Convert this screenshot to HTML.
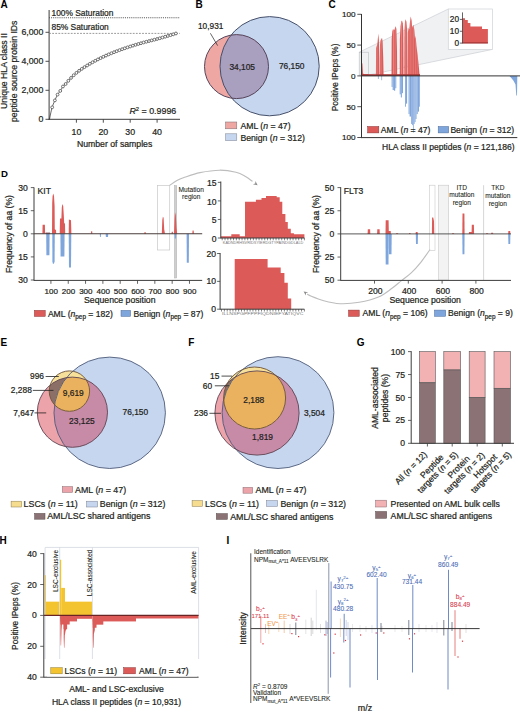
<!DOCTYPE html>
<html><head><meta charset="utf-8"><style>
html,body{margin:0;padding:0;background:#fff;}
body{position:relative;width:520px;height:715px;overflow:hidden;}
svg{display:block;position:absolute;left:0;top:0;}
</style></head><body>
<svg width="520" height="715" viewBox="0 0 520 715" font-family="Liberation Sans, sans-serif" fill="#231f20">
<text x="0.60" y="7.70" font-size="10" font-weight="bold" fill="#000">A</text>
<line x1="49.10" y1="10.00" x2="49.10" y2="119.80" stroke="#3c3c3c" stroke-width="1.0"/>
<line x1="48.60" y1="119.30" x2="180.00" y2="119.30" stroke="#3c3c3c" stroke-width="1.0"/>
<line x1="45.50" y1="119.30" x2="49.10" y2="119.30" stroke="#3c3c3c" stroke-width="0.9"/>
<text x="43.40" y="122.40" font-size="8.8" text-anchor="end" stroke="#231f20" stroke-width="0.22">0</text>
<line x1="45.50" y1="90.30" x2="49.10" y2="90.30" stroke="#3c3c3c" stroke-width="0.9"/>
<text x="43.40" y="93.40" font-size="8.8" text-anchor="end" stroke="#231f20" stroke-width="0.22">2,000</text>
<line x1="45.50" y1="61.30" x2="49.10" y2="61.30" stroke="#3c3c3c" stroke-width="0.9"/>
<text x="43.40" y="64.40" font-size="8.8" text-anchor="end" stroke="#231f20" stroke-width="0.22">4,000</text>
<line x1="45.50" y1="32.30" x2="49.10" y2="32.30" stroke="#3c3c3c" stroke-width="0.9"/>
<text x="43.40" y="35.40" font-size="8.8" text-anchor="end" stroke="#231f20" stroke-width="0.22">6,000</text>
<line x1="76.40" y1="119.30" x2="76.40" y2="122.70" stroke="#3c3c3c" stroke-width="0.9"/>
<text x="76.40" y="134.80" font-size="8.8" text-anchor="middle" stroke="#231f20" stroke-width="0.22">10</text>
<line x1="103.30" y1="119.30" x2="103.30" y2="122.70" stroke="#3c3c3c" stroke-width="0.9"/>
<text x="103.30" y="134.80" font-size="8.8" text-anchor="middle" stroke="#231f20" stroke-width="0.22">20</text>
<line x1="130.20" y1="119.30" x2="130.20" y2="122.70" stroke="#3c3c3c" stroke-width="0.9"/>
<text x="130.20" y="134.80" font-size="8.8" text-anchor="middle" stroke="#231f20" stroke-width="0.22">30</text>
<line x1="157.10" y1="119.30" x2="157.10" y2="122.70" stroke="#3c3c3c" stroke-width="0.9"/>
<text x="157.10" y="134.80" font-size="8.8" text-anchor="middle" stroke="#231f20" stroke-width="0.22">40</text>
<text x="114.60" y="147.20" font-size="8.7" text-anchor="middle" stroke="#231f20" stroke-width="0.22">Number of samples</text>
<text transform="translate(6.60,71.00) rotate(-90)" font-size="8.7" text-anchor="middle" stroke="#231f20" stroke-width="0.22">Unique HLA class II</text>
<text transform="translate(17.30,71.30) rotate(-90)" font-size="8.7" text-anchor="middle" stroke="#231f20" stroke-width="0.22">peptide source protein IDs</text>
<line x1="49.10" y1="17.80" x2="180.00" y2="17.80" stroke="#4a4a4a" stroke-width="1.1" stroke-dasharray="0.9,1.0"/>
<line x1="49.10" y1="33.40" x2="180.00" y2="33.40" stroke="#777" stroke-width="0.75" stroke-dasharray="1.8,1.3"/>
<text x="51.50" y="15.80" font-size="8.4" stroke="#231f20" stroke-width="0.22">100% Saturation</text>
<text x="51.50" y="30.40" font-size="8.4" stroke="#231f20" stroke-width="0.22">85% Saturation</text>
<text x="176.30" y="114.40" font-size="8.9" text-anchor="end" stroke="#231f20" stroke-width="0.22"><tspan font-style="italic">R</tspan><tspan dy="-3.2" font-size="5.8">2</tspan><tspan dy="3.2"> = 0.9996</tspan></text>
<polyline points="49.50,119.30 50.14,115.98 50.77,112.91 51.41,110.17 52.04,107.80 52.68,105.81 53.31,104.10 53.95,102.56 54.58,101.09 55.22,99.61 55.85,98.13 56.49,96.71 57.12,95.42 57.76,94.31 58.39,93.38 59.03,92.56 59.67,91.74 60.30,90.85 60.94,89.80 61.57,88.66 62.21,87.56 62.84,86.63 63.48,85.93 64.11,85.35 64.75,84.82 65.38,84.26 66.02,83.59 66.65,82.83 67.29,82.03 67.92,81.26 68.56,80.54 69.20,79.86 69.83,79.18 70.47,78.50 71.10,77.84 71.74,77.19 72.37,76.56 73.01,75.93 73.64,75.33 74.28,74.74 74.91,74.16 75.55,73.61 76.18,73.08 76.82,72.56 77.45,72.06 78.09,71.57 78.73,71.09 79.36,70.62 80.00,70.15 80.63,69.70 81.27,69.26 81.90,68.82 82.54,68.39 83.17,67.97 83.81,67.55 84.44,67.14 85.08,66.74 85.71,66.34 86.35,65.94 86.98,65.55 87.62,65.17 88.25,64.78 88.89,64.41 89.53,64.03 90.16,63.65 90.80,63.28 91.43,62.92 92.07,62.56 92.70,62.20 93.34,61.85 93.97,61.50 94.61,61.15 95.24,60.81 95.88,60.48 96.51,60.14 97.15,59.81 97.78,59.49 98.42,59.16 99.06,58.84 99.69,58.53 100.33,58.22 100.96,57.91 101.60,57.60 102.23,57.30 102.87,57.00 103.50,56.70 104.14,56.41 104.77,56.12 105.41,55.83 106.04,55.55 106.68,55.27 107.31,54.99 107.95,54.71 108.59,54.44 109.22,54.17 109.86,53.90 110.49,53.64 111.13,53.37 111.76,53.11 112.40,52.86 113.03,52.60 113.67,52.35 114.30,52.10 114.94,51.85 115.57,51.60 116.21,51.36 116.84,51.12 117.48,50.88 118.12,50.64 118.75,50.41 119.39,50.18 120.02,49.94 120.66,49.72 121.29,49.49 121.93,49.27 122.56,49.04 123.20,48.82 123.83,48.60 124.47,48.39 125.10,48.17 125.74,47.96 126.37,47.75 127.01,47.54 127.65,47.33 128.28,47.12 128.92,46.91 129.55,46.70 130.19,46.50 130.82,46.30 131.46,46.09 132.09,45.89 132.73,45.69 133.36,45.49 134.00,45.30 134.63,45.10 135.27,44.91 135.90,44.71 136.54,44.52 137.18,44.33 137.81,44.14 138.45,43.95 139.08,43.76 139.72,43.58 140.35,43.40 140.99,43.21 141.62,43.03 142.26,42.85 142.89,42.67 143.53,42.50 144.16,42.32 144.80,42.15 145.43,41.98 146.07,41.81 146.70,41.65 147.34,41.49 147.98,41.32 148.61,41.16 149.25,41.01 149.88,40.85 150.52,40.69 151.15,40.53 151.79,40.37 152.42,40.21 153.06,40.05 153.69,39.89 154.33,39.73 154.96,39.57 155.60,39.40 156.23,39.23 156.87,39.06 157.51,38.89 158.14,38.71 158.78,38.54 159.41,38.36 160.05,38.19 160.68,38.01 161.32,37.83 161.95,37.65 162.59,37.47 163.22,37.29 163.86,37.11 164.49,36.92 165.13,36.74 165.76,36.56 166.40,36.37 167.04,36.19 167.67,36.00 168.31,35.81 168.94,35.62 169.58,35.43 170.21,35.24 170.85,35.05 171.48,34.86 172.12,34.66 172.75,34.47 173.39,34.27 174.02,34.08 174.66,33.88 175.29,33.68 175.93,33.48" fill="none" stroke="#222" stroke-width="0.7"/>
<circle cx="52.19" cy="107.30" r="1.42" fill="#fff" stroke="#505050" stroke-width="0.8"/>
<circle cx="54.88" cy="100.40" r="1.42" fill="#fff" stroke="#505050" stroke-width="0.8"/>
<circle cx="57.57" cy="94.62" r="1.42" fill="#fff" stroke="#505050" stroke-width="0.8"/>
<circle cx="60.26" cy="90.91" r="1.42" fill="#fff" stroke="#505050" stroke-width="0.8"/>
<circle cx="62.95" cy="86.50" r="1.42" fill="#fff" stroke="#505050" stroke-width="0.8"/>
<circle cx="65.64" cy="84.00" r="1.42" fill="#fff" stroke="#505050" stroke-width="0.8"/>
<circle cx="68.33" cy="80.80" r="1.42" fill="#fff" stroke="#505050" stroke-width="0.8"/>
<circle cx="71.02" cy="77.93" r="1.42" fill="#fff" stroke="#505050" stroke-width="0.8"/>
<circle cx="73.71" cy="75.26" r="1.42" fill="#fff" stroke="#505050" stroke-width="0.8"/>
<circle cx="76.40" cy="72.90" r="1.42" fill="#fff" stroke="#505050" stroke-width="0.8"/>
<circle cx="79.09" cy="70.82" r="1.42" fill="#fff" stroke="#505050" stroke-width="0.8"/>
<circle cx="81.78" cy="68.90" r="1.42" fill="#fff" stroke="#505050" stroke-width="0.8"/>
<circle cx="84.47" cy="67.12" r="1.42" fill="#fff" stroke="#505050" stroke-width="0.8"/>
<circle cx="87.16" cy="65.45" r="1.42" fill="#fff" stroke="#505050" stroke-width="0.8"/>
<circle cx="89.85" cy="63.84" r="1.42" fill="#fff" stroke="#505050" stroke-width="0.8"/>
<circle cx="92.54" cy="62.29" r="1.42" fill="#fff" stroke="#505050" stroke-width="0.8"/>
<circle cx="95.23" cy="60.82" r="1.42" fill="#fff" stroke="#505050" stroke-width="0.8"/>
<circle cx="97.92" cy="59.42" r="1.42" fill="#fff" stroke="#505050" stroke-width="0.8"/>
<circle cx="100.61" cy="58.08" r="1.42" fill="#fff" stroke="#505050" stroke-width="0.8"/>
<circle cx="103.30" cy="56.80" r="1.42" fill="#fff" stroke="#505050" stroke-width="0.8"/>
<circle cx="105.99" cy="55.57" r="1.42" fill="#fff" stroke="#505050" stroke-width="0.8"/>
<circle cx="108.68" cy="54.40" r="1.42" fill="#fff" stroke="#505050" stroke-width="0.8"/>
<circle cx="111.37" cy="53.27" r="1.42" fill="#fff" stroke="#505050" stroke-width="0.8"/>
<circle cx="114.06" cy="52.19" r="1.42" fill="#fff" stroke="#505050" stroke-width="0.8"/>
<circle cx="116.75" cy="51.16" r="1.42" fill="#fff" stroke="#505050" stroke-width="0.8"/>
<circle cx="119.44" cy="50.16" r="1.42" fill="#fff" stroke="#505050" stroke-width="0.8"/>
<circle cx="122.13" cy="49.19" r="1.42" fill="#fff" stroke="#505050" stroke-width="0.8"/>
<circle cx="124.82" cy="48.27" r="1.42" fill="#fff" stroke="#505050" stroke-width="0.8"/>
<circle cx="127.51" cy="47.37" r="1.42" fill="#fff" stroke="#505050" stroke-width="0.8"/>
<circle cx="130.20" cy="46.50" r="1.42" fill="#fff" stroke="#505050" stroke-width="0.8"/>
<circle cx="132.89" cy="45.64" r="1.42" fill="#fff" stroke="#505050" stroke-width="0.8"/>
<circle cx="135.58" cy="44.81" r="1.42" fill="#fff" stroke="#505050" stroke-width="0.8"/>
<circle cx="138.27" cy="44.00" r="1.42" fill="#fff" stroke="#505050" stroke-width="0.8"/>
<circle cx="140.96" cy="43.22" r="1.42" fill="#fff" stroke="#505050" stroke-width="0.8"/>
<circle cx="143.65" cy="42.46" r="1.42" fill="#fff" stroke="#505050" stroke-width="0.8"/>
<circle cx="146.34" cy="41.74" r="1.42" fill="#fff" stroke="#505050" stroke-width="0.8"/>
<circle cx="149.03" cy="41.06" r="1.42" fill="#fff" stroke="#505050" stroke-width="0.8"/>
<circle cx="151.72" cy="40.39" r="1.42" fill="#fff" stroke="#505050" stroke-width="0.8"/>
<circle cx="154.41" cy="39.71" r="1.42" fill="#fff" stroke="#505050" stroke-width="0.8"/>
<circle cx="157.10" cy="39.00" r="1.42" fill="#fff" stroke="#505050" stroke-width="0.8"/>
<circle cx="159.79" cy="38.26" r="1.42" fill="#fff" stroke="#505050" stroke-width="0.8"/>
<circle cx="162.48" cy="37.50" r="1.42" fill="#fff" stroke="#505050" stroke-width="0.8"/>
<circle cx="165.17" cy="36.73" r="1.42" fill="#fff" stroke="#505050" stroke-width="0.8"/>
<circle cx="167.86" cy="35.94" r="1.42" fill="#fff" stroke="#505050" stroke-width="0.8"/>
<circle cx="170.55" cy="35.14" r="1.42" fill="#fff" stroke="#505050" stroke-width="0.8"/>
<circle cx="173.24" cy="34.32" r="1.42" fill="#fff" stroke="#505050" stroke-width="0.8"/>
<circle cx="175.93" cy="33.48" r="1.42" fill="#fff" stroke="#505050" stroke-width="0.8"/>
<text x="195.60" y="7.60" font-size="10" font-weight="bold" fill="#000">B</text>
<defs><clipPath id="cbB"><circle cx="269.6" cy="66.2" r="49.6"/></clipPath></defs>
<circle cx="269.6" cy="66.2" r="49.6" fill="#c6d6ef"/>
<circle cx="236.5" cy="66.6" r="32.0" fill="#eea7a3"/>
<circle cx="236.5" cy="66.6" r="32.0" fill="#a99fbf" clip-path="url(#cbB)"/>
<circle cx="269.6" cy="66.2" r="49.6" fill="none" stroke="#46506a" stroke-width="1.0"/>
<circle cx="236.5" cy="66.6" r="32.0" fill="none" stroke="#54465c" stroke-width="1.0"/>
<text x="198.00" y="28.80" font-size="8.3" stroke="#231f20" stroke-width="0.22">10,931</text>
<line x1="210.40" y1="33.30" x2="217.60" y2="45.60" stroke="#222" stroke-width="0.7"/>
<text x="242.20" y="69.60" font-size="8.4" text-anchor="middle" stroke="#231f20" stroke-width="0.22">34,105</text>
<text x="291.70" y="69.40" font-size="8.4" text-anchor="middle" stroke="#231f20" stroke-width="0.22">76,150</text>
<rect x="225.60" y="122.00" width="11.20" height="6.80" fill="#eea7a3" stroke="#7a6a70" stroke-width="0.5"/>
<rect x="225.60" y="133.80" width="11.20" height="6.80" fill="#c6d6ef" stroke="#7a8090" stroke-width="0.5"/>
<text x="240.40" y="128.80" font-size="8.7" stroke="#231f20" stroke-width="0.22">AML (<tspan font-style="italic">n</tspan> = 47)</text>
<text x="240.40" y="140.60" font-size="8.7" stroke="#231f20" stroke-width="0.22">Benign (<tspan font-style="italic">n</tspan> = 312)</text>
<text x="328.40" y="7.50" font-size="10" font-weight="bold" fill="#000">C</text>
<polygon points="359.20,52.20 448.30,9.00 492.50,49.40 368.60,75.00 359.20,75.00" fill="#e9ecef" opacity="0.75"/>
<line x1="359.20" y1="52.20" x2="448.30" y2="9.00" stroke="#c4c8cc" stroke-width="0.6"/>
<line x1="368.60" y1="75.00" x2="492.50" y2="49.40" stroke="#c4c8cc" stroke-width="0.6"/>
<rect x="359.20" y="52.20" width="9.40" height="22.80" fill="none" stroke="#b9bdc2" stroke-width="0.6"/>
<polygon points="361.70,75.90 361.70,62.96 362.40,63.58 363.00,73.44 364.50,74.36 368.50,74.36 368.50,75.90" fill="#dc5b58"/>
<polygon points="375.90,75.90 375.90,75.90 376.10,48.18 377.20,44.48 377.60,42.02 378.30,33.40 378.90,40.17 379.30,57.42 379.40,75.90 379.40,75.90" fill="#dc5b58"/>
<polygon points="379.80,75.90 379.80,75.90 380.00,45.10 380.60,40.17 381.40,38.94 382.00,37.71 382.60,41.40 383.20,57.42 383.60,75.90 383.60,75.90" fill="#dc5b58"/>
<polygon points="391.50,75.90 391.50,75.90 391.70,38.94 392.30,31.55 393.00,29.08 393.80,30.32 394.50,29.70 395.10,27.85 395.70,26.19 396.40,29.08 397.00,51.26 397.20,75.90 397.20,75.90" fill="#dc5b58"/>
<polygon points="399.70,75.90 399.70,75.90 399.90,38.94 400.50,26.62 401.20,21.69 402.00,20.46 402.80,23.54 403.30,32.78 403.50,75.90 403.50,75.90" fill="#dc5b58"/>
<polygon points="404.30,75.90 404.30,75.90 404.50,29.70 405.00,21.69 405.60,19.23 406.40,21.69 407.10,29.70 407.30,75.90 407.30,75.90" fill="#dc5b58"/>
<polygon points="407.60,75.90 407.60,75.90 407.80,32.78 408.60,28.47 409.40,29.08 409.80,23.54 410.70,16.39 411.60,20.46 412.20,27.85 413.40,24.77 414.30,29.70 415.00,38.94 415.60,35.86 416.50,46.33 417.50,54.34 418.50,63.58 419.50,74.05 419.80,75.90 419.80,75.90" fill="#dc5b58"/>
<defs><clipPath id="redC"><polygon points="361.70,75.90 361.70,62.96 362.40,63.58 363.00,73.44 364.50,74.36 368.50,74.36 368.50,75.90"/><polygon points="375.90,75.90 375.90,75.90 376.10,48.18 377.20,44.48 377.60,42.02 378.30,33.40 378.90,40.17 379.30,57.42 379.40,75.90 379.40,75.90"/><polygon points="379.80,75.90 379.80,75.90 380.00,45.10 380.60,40.17 381.40,38.94 382.00,37.71 382.60,41.40 383.20,57.42 383.60,75.90 383.60,75.90"/><polygon points="391.50,75.90 391.50,75.90 391.70,38.94 392.30,31.55 393.00,29.08 393.80,30.32 394.50,29.70 395.10,27.85 395.70,26.19 396.40,29.08 397.00,51.26 397.20,75.90 397.20,75.90"/><polygon points="399.70,75.90 399.70,75.90 399.90,38.94 400.50,26.62 401.20,21.69 402.00,20.46 402.80,23.54 403.30,32.78 403.50,75.90 403.50,75.90"/><polygon points="404.30,75.90 404.30,75.90 404.50,29.70 405.00,21.69 405.60,19.23 406.40,21.69 407.10,29.70 407.30,75.90 407.30,75.90"/><polygon points="407.60,75.90 407.60,75.90 407.80,32.78 408.60,28.47 409.40,29.08 409.80,23.54 410.70,16.39 411.60,20.46 412.20,27.85 413.40,24.77 414.30,29.70 415.00,38.94 415.60,35.86 416.50,46.33 417.50,54.34 418.50,63.58 419.50,74.05 419.80,75.90 419.80,75.90"/></clipPath></defs>
<g clip-path="url(#redC)"><line x1="377.0" y1="10" x2="377.0" y2="75.9" stroke="#f0a4a4" stroke-width="0.5"/><line x1="381.0" y1="10" x2="381.0" y2="75.9" stroke="#f0a4a4" stroke-width="0.5"/><line x1="393.6" y1="10" x2="393.6" y2="75.9" stroke="#f0a4a4" stroke-width="0.6"/><line x1="395.2" y1="10" x2="395.2" y2="75.9" stroke="#f0a4a4" stroke-width="0.4"/><line x1="401.5" y1="10" x2="401.5" y2="75.9" stroke="#f0a4a4" stroke-width="0.5"/><line x1="405.8" y1="10" x2="405.8" y2="75.9" stroke="#f0a4a4" stroke-width="0.5"/><line x1="409.0" y1="10" x2="409.0" y2="75.9" stroke="#f0a4a4" stroke-width="0.4"/><line x1="410.9" y1="10" x2="410.9" y2="75.9" stroke="#f0a4a4" stroke-width="0.5"/><line x1="413.2" y1="10" x2="413.2" y2="75.9" stroke="#f0a4a4" stroke-width="0.5"/><line x1="415.4" y1="10" x2="415.4" y2="75.9" stroke="#f0a4a4" stroke-width="0.4"/><line x1="417.2" y1="10" x2="417.2" y2="75.9" stroke="#f0a4a4" stroke-width="0.4"/></g>
<rect x="377.90" y="75.90" width="0.80" height="3.08" fill="#7ea6dc"/>
<rect x="381.30" y="75.90" width="0.80" height="4.31" fill="#8db0e0"/>
<rect x="391.60" y="75.90" width="1.00" height="11.09" fill="#7ea6dc"/>
<rect x="392.60" y="75.90" width="1.40" height="14.17" fill="#8db0e0"/>
<rect x="394.00" y="75.90" width="1.20" height="14.78" fill="#7ea6dc"/>
<rect x="395.20" y="75.90" width="1.10" height="12.32" fill="#8db0e0"/>
<rect x="399.70" y="75.90" width="1.10" height="18.48" fill="#7ea6dc"/>
<rect x="400.80" y="75.90" width="1.20" height="21.56" fill="#8db0e0"/>
<rect x="402.00" y="75.90" width="1.00" height="17.25" fill="#7ea6dc"/>
<rect x="405.00" y="75.90" width="1.00" height="30.80" fill="#8db0e0"/>
<rect x="406.00" y="75.90" width="1.10" height="27.72" fill="#7ea6dc"/>
<rect x="408.50" y="75.90" width="1.10" height="38.19" fill="#8db0e0"/>
<rect x="409.60" y="75.90" width="1.50" height="40.66" fill="#7ea6dc"/>
<rect x="411.10" y="75.90" width="1.10" height="48.05" fill="#8db0e0"/>
<rect x="412.20" y="75.90" width="0.80" height="49.28" fill="#7ea6dc"/>
<rect x="413.00" y="75.90" width="0.80" height="56.67" fill="#8db0e0"/>
<rect x="413.80" y="75.90" width="0.80" height="48.05" fill="#7ea6dc"/>
<rect x="414.60" y="75.90" width="1.00" height="46.20" fill="#8db0e0"/>
<rect x="415.60" y="75.90" width="0.90" height="43.12" fill="#7ea6dc"/>
<rect x="416.50" y="75.90" width="1.30" height="38.19" fill="#8db0e0"/>
<rect x="417.80" y="75.90" width="1.20" height="35.73" fill="#7ea6dc"/>
<rect x="419.00" y="75.90" width="0.90" height="30.80" fill="#8db0e0"/>
<polygon points="509.80,75.90 509.80,76.52 511.50,78.36 513.50,80.83 515.50,84.52 516.30,95.61 517.00,95.61 517.30,76.52 517.30,75.90" fill="#7ea6dc"/>
<rect x="361.00" y="74.20" width="59.00" height="1.80" fill="#a83a3a"/>
<line x1="361.50" y1="14.00" x2="361.50" y2="138.10" stroke="#333" stroke-width="1.0"/>
<line x1="361.50" y1="75.90" x2="520.00" y2="75.90" stroke="#333" stroke-width="1.0"/>
<line x1="361.50" y1="137.60" x2="517.30" y2="137.60" stroke="#333" stroke-width="1.0"/>
<line x1="357.30" y1="14.30" x2="361.50" y2="14.30" stroke="#3c3c3c" stroke-width="0.9"/>
<text x="355.40" y="17.20" font-size="8.1" text-anchor="end" stroke="#231f20" stroke-width="0.22">100</text>
<line x1="357.30" y1="45.10" x2="361.50" y2="45.10" stroke="#3c3c3c" stroke-width="0.9"/>
<text x="355.40" y="48.00" font-size="8.1" text-anchor="end" stroke="#231f20" stroke-width="0.22">50</text>
<line x1="357.30" y1="75.90" x2="361.50" y2="75.90" stroke="#3c3c3c" stroke-width="0.9"/>
<text x="355.40" y="78.80" font-size="8.1" text-anchor="end" stroke="#231f20" stroke-width="0.22">0</text>
<line x1="357.30" y1="106.70" x2="361.50" y2="106.70" stroke="#3c3c3c" stroke-width="0.9"/>
<text x="355.40" y="109.60" font-size="8.1" text-anchor="end" stroke="#231f20" stroke-width="0.22">50</text>
<line x1="357.30" y1="137.50" x2="361.50" y2="137.50" stroke="#3c3c3c" stroke-width="0.9"/>
<text x="355.40" y="140.40" font-size="8.1" text-anchor="end" stroke="#231f20" stroke-width="0.22">100</text>
<text transform="translate(338.20,77.40) rotate(-90)" font-size="8.3" text-anchor="middle" stroke="#231f20" stroke-width="0.22">Positive IPeps (%)</text>
<rect x="448.30" y="9.00" width="44.20" height="40.40" fill="#fff" stroke="#cfd2d6" stroke-width="0.7"/>
<polygon points="462.50,43.10 462.50,18.21 465.00,18.21 465.00,19.99 467.80,19.99 467.80,22.96 470.40,22.96 470.40,26.51 482.00,26.51 482.00,28.88 487.90,28.88 487.90,43.10" fill="#dc5b58"/>
<rect x="462.50" y="42.20" width="25.40" height="1.40" fill="#a83a3a"/>
<line x1="462.50" y1="12.40" x2="462.50" y2="43.40" stroke="#3c3c3c" stroke-width="0.8"/>
<line x1="459.90" y1="43.10" x2="462.50" y2="43.10" stroke="#3c3c3c" stroke-width="0.8"/>
<text x="459.10" y="46.00" font-size="8.3" text-anchor="end" stroke="#231f20" stroke-width="0.22">0</text>
<line x1="459.90" y1="31.25" x2="462.50" y2="31.25" stroke="#3c3c3c" stroke-width="0.8"/>
<text x="459.10" y="34.15" font-size="8.3" text-anchor="end" stroke="#231f20" stroke-width="0.22">10</text>
<line x1="459.90" y1="19.40" x2="462.50" y2="19.40" stroke="#3c3c3c" stroke-width="0.8"/>
<text x="459.10" y="22.30" font-size="8.3" text-anchor="end" stroke="#231f20" stroke-width="0.22">20</text>
<rect x="367.70" y="126.50" width="11.10" height="6.40" fill="#dc5b58" stroke="#8a3030" stroke-width="0.5"/>
<rect x="438.20" y="126.50" width="10.50" height="6.40" fill="#7ea6dc" stroke="#4a6a9a" stroke-width="0.5"/>
<text x="380.80" y="132.90" font-size="8.6" stroke="#231f20" stroke-width="0.22">AML (<tspan font-style="italic">n</tspan> = 47)</text>
<text x="450.40" y="132.90" font-size="8.6" stroke="#231f20" stroke-width="0.22">Benign (<tspan font-style="italic">n</tspan> = 312)</text>
<text x="382.00" y="150.10" font-size="8.5" stroke="#231f20" stroke-width="0.22">HLA class II peptides (<tspan font-style="italic">n</tspan> = 121,186)</text>
<text x="1.00" y="176.80" font-size="9.6" font-weight="bold" fill="#000">D</text>
<rect x="157.40" y="185.40" width="12.30" height="64.60" fill="none" stroke="#c8c8c8" stroke-width="0.7"/>
<rect x="174.40" y="185.60" width="2.30" height="92.40" fill="#cfcfcf" stroke="#b0b0b0" stroke-width="0.5"/>
<polygon points="42.40,233.80 42.40,233.80 42.60,224.87 44.90,224.87 45.10,233.80 45.10,233.80" fill="#dc5b58"/>
<polygon points="52.00,233.80 52.00,233.80 52.20,203.00 52.60,196.07 53.30,193.45 54.00,196.07 54.60,206.08 54.80,229.18 56.00,229.95 56.20,233.80 56.20,233.80" fill="#dc5b58"/>
<polygon points="59.70,233.80 59.70,233.80 60.00,218.40 61.40,218.40 61.80,207.62 62.40,203.92 63.20,206.08 63.80,215.32 64.20,223.02 65.00,223.79 65.20,233.80 65.20,233.80" fill="#dc5b58"/>
<polygon points="68.70,233.80 68.70,233.80 68.90,219.48 71.00,220.25 71.40,233.80 71.40,233.80" fill="#dc5b58"/>
<polygon points="90.80,233.80 90.80,233.80 91.20,231.34 92.20,231.34 92.40,233.80 92.40,233.80" fill="#dc5b58"/>
<polygon points="144.20,233.80 144.20,233.80 144.60,231.95 145.60,232.26 146.00,233.80 146.00,233.80" fill="#dc5b58"/>
<polygon points="161.80,233.80 161.80,233.80 162.30,219.94 162.90,216.86 163.60,217.63 164.20,229.18 165.00,233.80 165.00,233.80" fill="#dc5b58"/>
<polygon points="171.40,233.80 171.40,233.80 171.80,231.64 172.80,231.64 173.10,233.80 173.10,233.80" fill="#dc5b58"/>
<polygon points="174.00,233.80 174.00,233.80 174.50,221.48 175.00,212.24 175.80,215.32 176.50,227.64 177.20,233.80 177.20,233.80" fill="#dc5b58"/>
<polygon points="192.30,233.80 192.30,233.80 192.60,230.41 193.60,230.41 194.00,233.80 194.00,233.80" fill="#dc5b58"/>
<polygon points="46.20,233.80 46.20,233.80 46.40,255.36 49.40,255.36 49.60,233.80 49.60,233.80" fill="#7ea6dc"/>
<polygon points="52.30,233.80 52.30,233.80 52.40,261.52 52.90,263.83 53.90,263.83 54.60,261.52 54.80,233.80 54.80,233.80" fill="#7ea6dc"/>
<polygon points="60.40,233.80 60.40,233.80 60.60,256.44 64.40,256.44 64.60,233.80 64.60,233.80" fill="#7ea6dc"/>
<polygon points="68.70,233.80 68.70,233.80 69.00,267.53 71.00,267.53 71.30,233.80 71.30,233.80" fill="#7ea6dc"/>
<polygon points="99.80,233.80 99.80,233.80 100.00,236.88 100.80,236.88 101.00,233.80 101.00,233.80" fill="#7ea6dc"/>
<polygon points="105.70,233.80 105.70,233.80 105.90,236.88 108.00,236.88 108.20,233.80 108.20,233.80" fill="#7ea6dc"/>
<polygon points="174.60,233.80 174.60,233.80 174.80,238.42 176.00,238.42 176.20,233.80 176.20,233.80" fill="#7ea6dc"/>
<polygon points="186.60,233.80 186.60,233.80 186.80,262.75 188.80,262.75 189.00,233.80 189.00,233.80" fill="#7ea6dc"/>
<rect x="45.50" y="232.60" width="4.60" height="1.20" fill="#7a4a5a"/>
<line x1="34.00" y1="187.40" x2="34.00" y2="280.80" stroke="#3c3c3c" stroke-width="1.0"/>
<line x1="34.00" y1="233.80" x2="202.20" y2="233.80" stroke="#4a3c3c" stroke-width="1.1"/>
<line x1="34.00" y1="280.40" x2="202.20" y2="280.40" stroke="#3c3c3c" stroke-width="1.0"/>
<line x1="30.80" y1="187.60" x2="34.00" y2="187.60" stroke="#3c3c3c" stroke-width="0.8"/>
<text x="27.90" y="190.60" font-size="8.6" text-anchor="end" stroke="#231f20" stroke-width="0.22">30</text>
<line x1="30.80" y1="210.70" x2="34.00" y2="210.70" stroke="#3c3c3c" stroke-width="0.8"/>
<text x="27.90" y="213.70" font-size="8.6" text-anchor="end" stroke="#231f20" stroke-width="0.22">15</text>
<line x1="30.80" y1="233.80" x2="34.00" y2="233.80" stroke="#3c3c3c" stroke-width="0.8"/>
<text x="27.90" y="236.80" font-size="8.6" text-anchor="end" stroke="#231f20" stroke-width="0.22">0</text>
<line x1="30.80" y1="256.90" x2="34.00" y2="256.90" stroke="#3c3c3c" stroke-width="0.8"/>
<text x="27.90" y="259.90" font-size="8.6" text-anchor="end" stroke="#231f20" stroke-width="0.22">15</text>
<line x1="30.80" y1="280.00" x2="34.00" y2="280.00" stroke="#3c3c3c" stroke-width="0.8"/>
<text x="27.90" y="283.00" font-size="8.6" text-anchor="end" stroke="#231f20" stroke-width="0.22">30</text>
<line x1="50.92" y1="280.40" x2="50.92" y2="283.80" stroke="#3c3c3c" stroke-width="0.8"/>
<text x="51.22" y="294.20" font-size="8.0" text-anchor="middle" stroke="#231f20" stroke-width="0.22">100</text>
<line x1="68.24" y1="280.40" x2="68.24" y2="283.80" stroke="#3c3c3c" stroke-width="0.8"/>
<text x="68.54" y="294.20" font-size="8.0" text-anchor="middle" stroke="#231f20" stroke-width="0.22">200</text>
<line x1="85.56" y1="280.40" x2="85.56" y2="283.80" stroke="#3c3c3c" stroke-width="0.8"/>
<text x="85.86" y="294.20" font-size="8.0" text-anchor="middle" stroke="#231f20" stroke-width="0.22">300</text>
<line x1="102.88" y1="280.40" x2="102.88" y2="283.80" stroke="#3c3c3c" stroke-width="0.8"/>
<text x="103.18" y="294.20" font-size="8.0" text-anchor="middle" stroke="#231f20" stroke-width="0.22">400</text>
<line x1="120.20" y1="280.40" x2="120.20" y2="283.80" stroke="#3c3c3c" stroke-width="0.8"/>
<text x="120.50" y="294.20" font-size="8.0" text-anchor="middle" stroke="#231f20" stroke-width="0.22">500</text>
<line x1="137.52" y1="280.40" x2="137.52" y2="283.80" stroke="#3c3c3c" stroke-width="0.8"/>
<text x="137.82" y="294.20" font-size="8.0" text-anchor="middle" stroke="#231f20" stroke-width="0.22">600</text>
<line x1="154.84" y1="280.40" x2="154.84" y2="283.80" stroke="#3c3c3c" stroke-width="0.8"/>
<text x="155.14" y="294.20" font-size="8.0" text-anchor="middle" stroke="#231f20" stroke-width="0.22">700</text>
<line x1="172.16" y1="280.40" x2="172.16" y2="283.80" stroke="#3c3c3c" stroke-width="0.8"/>
<text x="172.46" y="294.20" font-size="8.0" text-anchor="middle" stroke="#231f20" stroke-width="0.22">800</text>
<line x1="189.48" y1="280.40" x2="189.48" y2="283.80" stroke="#3c3c3c" stroke-width="0.8"/>
<text x="189.78" y="294.20" font-size="8.0" text-anchor="middle" stroke="#231f20" stroke-width="0.22">900</text>
<text x="119.80" y="302.90" font-size="8.7" text-anchor="middle" stroke="#231f20" stroke-width="0.22">Sequence position</text>
<text x="37.60" y="193.80" font-size="8.6" stroke="#231f20" stroke-width="0.22">KIT</text>
<text transform="translate(11.80,234.00) rotate(-90)" font-size="8.6" text-anchor="middle" stroke="#231f20" stroke-width="0.22">Frequency of aa (%)</text>
<text x="191.20" y="191.50" font-size="6.6" text-anchor="middle" stroke="#231f20" stroke-width="0.08">Mutation</text>
<text x="191.20" y="199.20" font-size="6.6" text-anchor="middle" stroke="#231f20" stroke-width="0.08">region</text>
<rect x="34.40" y="310.40" width="10.80" height="6.00" fill="#dc5b58" stroke="#8a3030" stroke-width="0.5"/>
<text x="47.90" y="316.60" font-size="8.6" stroke="#231f20" stroke-width="0.22">AML (<tspan font-style="italic">n</tspan><tspan dy="2.1" font-size="6.4">pep</tspan><tspan dy="-2.1"> = 182)</tspan></text>
<rect x="121.00" y="310.40" width="9.60" height="6.00" fill="#7ea6dc" stroke="#4a6a9a" stroke-width="0.5"/>
<text x="133.60" y="316.60" font-size="8.6" stroke="#231f20" stroke-width="0.22">Benign (<tspan font-style="italic">n</tspan><tspan dy="2.1" font-size="6.4">pep</tspan><tspan dy="-2.1"> = 87)</tspan></text>
<polygon points="220.80,238.00 220.80,236.15 231.30,236.15 231.30,234.29 239.70,234.29 239.70,236.15 245.00,236.15 245.00,201.64 255.90,201.64 255.90,199.79 261.50,199.79 261.50,197.93 266.00,197.93 266.00,196.08 276.70,196.08 276.70,197.19 279.70,197.19 279.70,201.64 282.30,201.64 282.30,213.88 285.40,213.88 285.40,222.05 287.80,222.05 287.80,228.72 290.80,228.72 290.80,233.18 293.90,233.18 293.90,234.29 304.40,234.29 304.40,238.00" fill="#dc5b58"/>
<line x1="220.80" y1="181.50" x2="220.80" y2="238.40" stroke="#3c3c3c" stroke-width="1.0"/>
<line x1="220.80" y1="238.00" x2="304.40" y2="238.00" stroke="#3c3c3c" stroke-width="1.0"/>
<line x1="217.80" y1="238.00" x2="220.80" y2="238.00" stroke="#3c3c3c" stroke-width="0.8"/>
<text x="216.60" y="241.90" font-size="8.6" text-anchor="end" stroke="#231f20" stroke-width="0.22">0</text>
<line x1="217.80" y1="219.45" x2="220.80" y2="219.45" stroke="#3c3c3c" stroke-width="0.8"/>
<text x="216.60" y="223.35" font-size="8.6" text-anchor="end" stroke="#231f20" stroke-width="0.22">5</text>
<line x1="217.80" y1="200.90" x2="220.80" y2="200.90" stroke="#3c3c3c" stroke-width="0.8"/>
<text x="216.60" y="204.80" font-size="8.6" text-anchor="end" stroke="#231f20" stroke-width="0.22">10</text>
<line x1="217.80" y1="182.35" x2="220.80" y2="182.35" stroke="#3c3c3c" stroke-width="0.8"/>
<text x="216.60" y="186.25" font-size="8.6" text-anchor="end" stroke="#231f20" stroke-width="0.22">15</text>
<line x1="222.20" y1="238.00" x2="222.20" y2="240.30" stroke="#333" stroke-width="0.6"/>
<line x1="225.03" y1="238.00" x2="225.03" y2="240.30" stroke="#333" stroke-width="0.6"/>
<line x1="227.87" y1="238.00" x2="227.87" y2="240.30" stroke="#333" stroke-width="0.6"/>
<line x1="230.70" y1="238.00" x2="230.70" y2="240.30" stroke="#333" stroke-width="0.6"/>
<line x1="233.54" y1="238.00" x2="233.54" y2="240.30" stroke="#333" stroke-width="0.6"/>
<line x1="236.37" y1="238.00" x2="236.37" y2="240.30" stroke="#333" stroke-width="0.6"/>
<line x1="239.21" y1="238.00" x2="239.21" y2="240.30" stroke="#333" stroke-width="0.6"/>
<line x1="242.04" y1="238.00" x2="242.04" y2="240.30" stroke="#333" stroke-width="0.6"/>
<line x1="244.88" y1="238.00" x2="244.88" y2="240.30" stroke="#333" stroke-width="0.6"/>
<line x1="247.71" y1="238.00" x2="247.71" y2="240.30" stroke="#333" stroke-width="0.6"/>
<line x1="250.54" y1="238.00" x2="250.54" y2="240.30" stroke="#333" stroke-width="0.6"/>
<line x1="253.38" y1="238.00" x2="253.38" y2="240.30" stroke="#333" stroke-width="0.6"/>
<line x1="256.21" y1="238.00" x2="256.21" y2="240.30" stroke="#333" stroke-width="0.6"/>
<line x1="259.05" y1="238.00" x2="259.05" y2="240.30" stroke="#333" stroke-width="0.6"/>
<line x1="261.88" y1="238.00" x2="261.88" y2="240.30" stroke="#333" stroke-width="0.6"/>
<line x1="264.72" y1="238.00" x2="264.72" y2="240.30" stroke="#333" stroke-width="0.6"/>
<line x1="267.55" y1="238.00" x2="267.55" y2="240.30" stroke="#333" stroke-width="0.6"/>
<line x1="270.39" y1="238.00" x2="270.39" y2="240.30" stroke="#333" stroke-width="0.6"/>
<line x1="273.22" y1="238.00" x2="273.22" y2="240.30" stroke="#333" stroke-width="0.6"/>
<line x1="276.06" y1="238.00" x2="276.06" y2="240.30" stroke="#333" stroke-width="0.6"/>
<line x1="278.89" y1="238.00" x2="278.89" y2="240.30" stroke="#333" stroke-width="0.6"/>
<line x1="281.72" y1="238.00" x2="281.72" y2="240.30" stroke="#333" stroke-width="0.6"/>
<line x1="284.56" y1="238.00" x2="284.56" y2="240.30" stroke="#333" stroke-width="0.6"/>
<line x1="287.39" y1="238.00" x2="287.39" y2="240.30" stroke="#333" stroke-width="0.6"/>
<line x1="290.23" y1="238.00" x2="290.23" y2="240.30" stroke="#333" stroke-width="0.6"/>
<line x1="293.06" y1="238.00" x2="293.06" y2="240.30" stroke="#333" stroke-width="0.6"/>
<line x1="295.90" y1="238.00" x2="295.90" y2="240.30" stroke="#333" stroke-width="0.6"/>
<line x1="298.73" y1="238.00" x2="298.73" y2="240.30" stroke="#333" stroke-width="0.6"/>
<line x1="301.57" y1="238.00" x2="301.57" y2="240.30" stroke="#333" stroke-width="0.6"/>
<line x1="304.40" y1="238.00" x2="304.40" y2="240.30" stroke="#333" stroke-width="0.6"/>
<text x="222.8" y="244.2" font-size="2.6" fill="#777" textLength="80.6" lengthAdjust="spacingAndGlyphs">KADNDRHSVRIDSYIERDGTYPAINDGDLALD</text>
<polygon points="234.70,309.20 234.70,259.07 267.60,259.07 267.60,267.42 280.70,267.42 280.70,273.00 284.40,273.00 284.40,282.74 287.80,282.74 287.80,298.62 291.20,298.62 291.20,309.20" fill="#dc5b58"/>
<line x1="220.10" y1="253.00" x2="220.10" y2="309.60" stroke="#3c3c3c" stroke-width="1.0"/>
<line x1="220.10" y1="309.20" x2="304.40" y2="309.20" stroke="#3c3c3c" stroke-width="1.0"/>
<line x1="217.10" y1="309.20" x2="220.10" y2="309.20" stroke="#3c3c3c" stroke-width="0.8"/>
<text x="216.10" y="312.30" font-size="8.6" text-anchor="end" stroke="#231f20" stroke-width="0.22">0</text>
<line x1="217.10" y1="281.35" x2="220.10" y2="281.35" stroke="#3c3c3c" stroke-width="0.8"/>
<text x="216.10" y="284.45" font-size="8.6" text-anchor="end" stroke="#231f20" stroke-width="0.22">10</text>
<line x1="217.10" y1="253.50" x2="220.10" y2="253.50" stroke="#3c3c3c" stroke-width="0.8"/>
<text x="216.10" y="256.60" font-size="8.6" text-anchor="end" stroke="#231f20" stroke-width="0.22">20</text>
<line x1="221.50" y1="309.20" x2="221.50" y2="311.50" stroke="#333" stroke-width="0.6"/>
<line x1="224.36" y1="309.20" x2="224.36" y2="311.50" stroke="#333" stroke-width="0.6"/>
<line x1="227.22" y1="309.20" x2="227.22" y2="311.50" stroke="#333" stroke-width="0.6"/>
<line x1="230.08" y1="309.20" x2="230.08" y2="311.50" stroke="#333" stroke-width="0.6"/>
<line x1="232.93" y1="309.20" x2="232.93" y2="311.50" stroke="#333" stroke-width="0.6"/>
<line x1="235.79" y1="309.20" x2="235.79" y2="311.50" stroke="#333" stroke-width="0.6"/>
<line x1="238.65" y1="309.20" x2="238.65" y2="311.50" stroke="#333" stroke-width="0.6"/>
<line x1="241.51" y1="309.20" x2="241.51" y2="311.50" stroke="#333" stroke-width="0.6"/>
<line x1="244.37" y1="309.20" x2="244.37" y2="311.50" stroke="#333" stroke-width="0.6"/>
<line x1="247.23" y1="309.20" x2="247.23" y2="311.50" stroke="#333" stroke-width="0.6"/>
<line x1="250.09" y1="309.20" x2="250.09" y2="311.50" stroke="#333" stroke-width="0.6"/>
<line x1="252.94" y1="309.20" x2="252.94" y2="311.50" stroke="#333" stroke-width="0.6"/>
<line x1="255.80" y1="309.20" x2="255.80" y2="311.50" stroke="#333" stroke-width="0.6"/>
<line x1="258.66" y1="309.20" x2="258.66" y2="311.50" stroke="#333" stroke-width="0.6"/>
<line x1="261.52" y1="309.20" x2="261.52" y2="311.50" stroke="#333" stroke-width="0.6"/>
<line x1="264.38" y1="309.20" x2="264.38" y2="311.50" stroke="#333" stroke-width="0.6"/>
<line x1="267.24" y1="309.20" x2="267.24" y2="311.50" stroke="#333" stroke-width="0.6"/>
<line x1="270.10" y1="309.20" x2="270.10" y2="311.50" stroke="#333" stroke-width="0.6"/>
<line x1="272.96" y1="309.20" x2="272.96" y2="311.50" stroke="#333" stroke-width="0.6"/>
<line x1="275.81" y1="309.20" x2="275.81" y2="311.50" stroke="#333" stroke-width="0.6"/>
<line x1="278.67" y1="309.20" x2="278.67" y2="311.50" stroke="#333" stroke-width="0.6"/>
<line x1="281.53" y1="309.20" x2="281.53" y2="311.50" stroke="#333" stroke-width="0.6"/>
<line x1="284.39" y1="309.20" x2="284.39" y2="311.50" stroke="#333" stroke-width="0.6"/>
<line x1="287.25" y1="309.20" x2="287.25" y2="311.50" stroke="#333" stroke-width="0.6"/>
<line x1="290.11" y1="309.20" x2="290.11" y2="311.50" stroke="#333" stroke-width="0.6"/>
<line x1="292.97" y1="309.20" x2="292.97" y2="311.50" stroke="#333" stroke-width="0.6"/>
<line x1="295.82" y1="309.20" x2="295.82" y2="311.50" stroke="#333" stroke-width="0.6"/>
<line x1="298.68" y1="309.20" x2="298.68" y2="311.50" stroke="#333" stroke-width="0.6"/>
<line x1="301.54" y1="309.20" x2="301.54" y2="311.50" stroke="#333" stroke-width="0.6"/>
<line x1="304.40" y1="309.20" x2="304.40" y2="311.50" stroke="#333" stroke-width="0.6"/>
<text x="222.1" y="315.4" font-size="2.6" fill="#777" textLength="81.3" lengthAdjust="spacingAndGlyphs">ILLNSPGPFPPFIQDNIEFYATIQVC</text>
<path d="M169.80,185.30 C170.98,184.48 174.43,181.73 176.90,180.40 C179.37,179.07 180.75,178.60 184.60,177.30 C188.45,176.00 194.17,173.78 200.00,172.60 C205.83,171.42 213.60,170.25 219.60,170.20 C225.60,170.15 231.68,171.25 236.00,172.30 C240.32,173.35 242.75,174.98 245.50,176.50 C248.25,178.02 251.33,180.58 252.50,181.40" fill="none" stroke="#bdbdbd" stroke-width="1.15"/>
<polygon points="252.98,184.37 257.60,185.20 255.49,181.01 255.24,183.44" fill="#8c8c8c"/>
<path d="M430.00,249.50 C428.47,251.63 423.93,258.40 420.80,262.30 C417.67,266.20 414.42,269.85 411.20,272.90 C407.98,275.95 404.70,278.03 401.50,280.60 C398.30,283.17 395.83,285.57 392.00,288.30 C388.17,291.03 383.97,294.67 378.50,297.00 C373.03,299.33 365.62,301.18 359.20,302.30 C352.78,303.42 345.90,303.97 340.00,303.70 C334.10,303.43 328.90,302.08 323.80,300.70 C318.70,299.32 312.17,296.52 309.40,295.40 C306.63,294.28 307.57,294.23 307.20,294.00" fill="none" stroke="#bdbdbd" stroke-width="1.15"/>
<polygon points="308.24,292.14 303.60,291.40 305.79,295.55 305.99,293.11" fill="#8c8c8c"/>
<rect x="429.50" y="185.20" width="5.50" height="65.20" fill="none" stroke="#c8c8c8" stroke-width="0.6"/>
<rect x="438.60" y="185.20" width="10.10" height="94.80" fill="#f3f3f3" stroke="#c8c8c8" stroke-width="0.6"/>
<line x1="483.60" y1="185.20" x2="483.60" y2="280.00" stroke="#c4c4c4" stroke-width="0.7"/>
<polygon points="367.60,233.90 367.60,233.90 367.80,229.27 370.10,229.27 370.30,233.90 370.30,233.90" fill="#dc5b58"/>
<polygon points="377.10,233.90 377.10,233.90 377.30,229.27 379.60,229.27 379.80,233.90 379.80,233.90" fill="#dc5b58"/>
<polygon points="385.50,233.90 385.50,233.90 385.70,220.29 388.60,220.29 388.80,231.12 390.70,231.12 390.90,233.90 390.90,233.90" fill="#dc5b58"/>
<polygon points="409.00,233.90 409.00,233.90 409.20,232.97 410.40,232.97 410.60,233.90 410.60,233.90" fill="#dc5b58"/>
<polygon points="415.60,233.90 415.60,233.90 415.80,232.05 417.60,232.05 417.80,233.90 417.80,233.90" fill="#dc5b58"/>
<polygon points="431.90,233.90 431.90,233.90 432.10,217.60 433.20,217.60 434.00,220.94 434.20,233.90 434.20,233.90" fill="#dc5b58"/>
<polygon points="462.30,233.90 462.30,233.90 462.50,213.53 464.40,213.53 464.60,233.90 464.60,233.90" fill="#dc5b58"/>
<polygon points="468.80,233.90 468.80,233.90 469.00,232.05 471.60,232.05 471.80,224.64 473.90,224.64 474.10,233.90 474.10,233.90" fill="#dc5b58"/>
<polygon points="508.20,233.90 508.20,233.90 508.40,231.12 510.20,231.12 510.40,233.90 510.40,233.90" fill="#dc5b58"/>
<polygon points="396.00,233.90 396.00,233.90 396.20,233.16 398.00,233.16 398.20,233.90 398.20,233.90" fill="#dc5b58"/>
<polygon points="452.00,233.90 452.00,233.90 452.20,233.16 454.00,233.16 454.20,233.90 454.20,233.90" fill="#dc5b58"/>
<polygon points="486.00,233.90 486.00,233.90 486.20,233.16 488.00,233.16 488.20,233.90 488.20,233.90" fill="#dc5b58"/>
<polygon points="491.00,233.90 491.00,233.90 491.20,232.79 493.00,232.79 493.20,233.90 493.20,233.90" fill="#dc5b58"/>
<polygon points="385.50,233.90 385.50,233.90 385.70,264.46 388.50,264.46 388.70,233.90 388.70,233.90" fill="#7ea6dc"/>
<polygon points="388.70,233.90 388.70,233.90 388.90,254.27 391.50,254.27 391.70,233.90 391.70,233.90" fill="#7ea6dc"/>
<polygon points="415.80,233.90 415.80,233.90 416.00,244.09 417.80,244.09 418.00,233.90 418.00,233.90" fill="#7ea6dc"/>
<polygon points="462.30,233.90 462.30,233.90 462.50,254.27 464.40,254.27 464.60,233.90 464.60,233.90" fill="#7ea6dc"/>
<polygon points="508.20,233.90 508.20,233.90 508.40,244.09 510.20,244.09 510.40,233.90 510.40,233.90" fill="#7ea6dc"/>
<line x1="340.70" y1="187.20" x2="340.70" y2="280.80" stroke="#3c3c3c" stroke-width="1.0"/>
<line x1="340.70" y1="233.90" x2="511.00" y2="233.90" stroke="#444" stroke-width="0.9"/>
<line x1="340.70" y1="280.40" x2="511.00" y2="280.40" stroke="#3c3c3c" stroke-width="1.0"/>
<line x1="337.50" y1="187.60" x2="340.70" y2="187.60" stroke="#3c3c3c" stroke-width="0.8"/>
<text x="334.30" y="190.60" font-size="8.6" text-anchor="end" stroke="#231f20" stroke-width="0.22">50</text>
<line x1="337.50" y1="210.75" x2="340.70" y2="210.75" stroke="#3c3c3c" stroke-width="0.8"/>
<text x="334.30" y="213.75" font-size="8.6" text-anchor="end" stroke="#231f20" stroke-width="0.22">25</text>
<line x1="337.50" y1="233.90" x2="340.70" y2="233.90" stroke="#3c3c3c" stroke-width="0.8"/>
<text x="334.30" y="236.90" font-size="8.6" text-anchor="end" stroke="#231f20" stroke-width="0.22">0</text>
<line x1="337.50" y1="257.05" x2="340.70" y2="257.05" stroke="#3c3c3c" stroke-width="0.8"/>
<text x="334.30" y="260.05" font-size="8.6" text-anchor="end" stroke="#231f20" stroke-width="0.22">25</text>
<line x1="337.50" y1="280.20" x2="340.70" y2="280.20" stroke="#3c3c3c" stroke-width="0.8"/>
<text x="334.30" y="283.20" font-size="8.6" text-anchor="end" stroke="#231f20" stroke-width="0.22">50</text>
<line x1="374.50" y1="280.40" x2="374.50" y2="283.60" stroke="#3c3c3c" stroke-width="0.8"/>
<text x="375.30" y="294.20" font-size="8.6" text-anchor="middle" stroke="#231f20" stroke-width="0.22">200</text>
<line x1="408.30" y1="280.40" x2="408.30" y2="283.60" stroke="#3c3c3c" stroke-width="0.8"/>
<text x="409.10" y="294.20" font-size="8.6" text-anchor="middle" stroke="#231f20" stroke-width="0.22">400</text>
<line x1="442.10" y1="280.40" x2="442.10" y2="283.60" stroke="#3c3c3c" stroke-width="0.8"/>
<text x="442.90" y="294.20" font-size="8.6" text-anchor="middle" stroke="#231f20" stroke-width="0.22">600</text>
<line x1="475.90" y1="280.40" x2="475.90" y2="283.60" stroke="#3c3c3c" stroke-width="0.8"/>
<text x="476.70" y="294.20" font-size="8.6" text-anchor="middle" stroke="#231f20" stroke-width="0.22">800</text>
<text x="425.20" y="303.20" font-size="8.7" text-anchor="middle" stroke="#231f20" stroke-width="0.22">Sequence position</text>
<text x="343.80" y="193.70" font-size="8.6" stroke="#231f20" stroke-width="0.22">FLT3</text>
<text transform="translate(319.40,234.00) rotate(-90)" font-size="8.6" text-anchor="middle" stroke="#231f20" stroke-width="0.22">Frequency of aa (%)</text>
<text x="461.80" y="189.50" font-size="6.6" text-anchor="middle" stroke="#231f20" stroke-width="0.08">ITD</text>
<text x="461.80" y="197.20" font-size="6.6" text-anchor="middle" stroke="#231f20" stroke-width="0.08">mutation</text>
<text x="461.80" y="204.90" font-size="6.6" text-anchor="middle" stroke="#231f20" stroke-width="0.08">region</text>
<text x="497.80" y="190.10" font-size="6.6" text-anchor="middle" stroke="#231f20" stroke-width="0.08">TKD</text>
<text x="497.80" y="197.80" font-size="6.6" text-anchor="middle" stroke="#231f20" stroke-width="0.08">mutation</text>
<text x="497.80" y="205.50" font-size="6.6" text-anchor="middle" stroke="#231f20" stroke-width="0.08">region</text>
<rect x="348.60" y="310.10" width="10.60" height="6.20" fill="#dc5b58" stroke="#8a3030" stroke-width="0.5"/>
<text x="362.60" y="316.40" font-size="8.6" stroke="#231f20" stroke-width="0.22">AML (<tspan font-style="italic">n</tspan><tspan dy="2.1" font-size="6.4">pep</tspan><tspan dy="-2.1"> = 106)</tspan></text>
<rect x="434.50" y="310.10" width="11.20" height="6.20" fill="#7ea6dc" stroke="#4a6a9a" stroke-width="0.5"/>
<text x="448.00" y="316.40" font-size="8.6" stroke="#231f20" stroke-width="0.22">Benign (<tspan font-style="italic">n</tspan><tspan dy="2.1" font-size="6.4">pep</tspan><tspan dy="-2.1"> = 9)</tspan></text>
<text x="0.60" y="346.40" font-size="10" font-weight="bold" fill="#000">E</text>
<defs><clipPath id="vEb"><circle cx="109.7" cy="412.8" r="55.7"/></clipPath><clipPath id="vEr"><circle cx="72.4" cy="412.2" r="35.1"/></clipPath><mask id="vEmb"><rect x="0" y="0" width="520" height="715" fill="#fff"/><circle cx="109.7" cy="412.8" r="55.7" fill="#000"/></mask></defs>
<circle cx="109.7" cy="412.8" r="55.7" fill="#c6d6ef"/>
<circle cx="72.4" cy="412.2" r="35.1" fill="#eca3a9"/>
<circle cx="72.4" cy="412.2" r="35.1" fill="#c78ba8" clip-path="url(#vEb)"/>
<circle cx="69.4" cy="391.1" r="20.2" fill="#f6e09a"/>
<g mask="url(#vEmb)"><circle cx="69.4" cy="391.1" r="20.2" fill="#8c7068" clip-path="url(#vEr)"/></g>
<g clip-path="url(#vEb)"><circle cx="69.4" cy="391.1" r="20.2" fill="#eab25f" clip-path="url(#vEr)"/></g>
<circle cx="109.7" cy="412.8" r="55.7" fill="none" stroke="#4f5b78" stroke-width="0.9"/>
<circle cx="72.4" cy="412.2" r="35.1" fill="none" stroke="#5e4452" stroke-width="0.9"/>
<circle cx="69.4" cy="391.1" r="20.2" fill="none" stroke="#6b5035" stroke-width="0.9"/>
<text x="73.30" y="396.10" font-size="8.4" text-anchor="middle" stroke="#231f20" stroke-width="0.22">9,619</text>
<text x="81.90" y="423.50" font-size="8.4" text-anchor="middle" stroke="#231f20" stroke-width="0.22">23,125</text>
<text x="135.30" y="414.90" font-size="8.4" text-anchor="middle" stroke="#231f20" stroke-width="0.22">76,150</text>
<text x="44.00" y="379.40" font-size="8.4" text-anchor="end" stroke="#231f20" stroke-width="0.22">996</text>
<line x1="45.60" y1="376.50" x2="58.80" y2="376.50" stroke="#222" stroke-width="0.8"/>
<text x="31.80" y="393.30" font-size="8.4" text-anchor="end" stroke="#231f20" stroke-width="0.22">2,288</text>
<line x1="32.80" y1="390.40" x2="53.50" y2="390.40" stroke="#222" stroke-width="0.8"/>
<text x="34.00" y="415.80" font-size="8.3" text-anchor="end" stroke="#231f20" stroke-width="0.22">7,647</text>
<line x1="34.50" y1="412.90" x2="46.20" y2="412.90" stroke="#222" stroke-width="0.8"/>
<rect x="62.30" y="486.60" width="10.40" height="5.80" fill="#eca3a9" stroke="#8a6a70" stroke-width="0.5"/>
<text x="75.10" y="492.60" font-size="8.85" stroke="#231f20" stroke-width="0.22">AML (<tspan font-style="italic">n</tspan> = 47)</text>
<rect x="11.10" y="501.20" width="10.40" height="5.80" fill="#f5dc8e" stroke="#8a7a50" stroke-width="0.5"/>
<text x="23.60" y="507.00" font-size="8.85" stroke="#231f20" stroke-width="0.22">LSCs (<tspan font-style="italic">n</tspan> = 11)</text>
<rect x="86.50" y="501.20" width="11.10" height="5.80" fill="#c6d6ef" stroke="#7a8090" stroke-width="0.5"/>
<text x="99.80" y="507.00" font-size="8.85" stroke="#231f20" stroke-width="0.22">Benign (<tspan font-style="italic">n</tspan> = 312)</text>
<rect x="34.60" y="513.40" width="10.40" height="5.80" fill="#8b7274" stroke="#5a4a4a" stroke-width="0.5"/>
<text x="47.20" y="519.40" font-size="8.85" stroke="#231f20" stroke-width="0.22">AML/LSC shared antigens</text>
<text x="188.20" y="346.30" font-size="10" font-weight="bold" fill="#000">F</text>
<defs><clipPath id="vFb"><circle cx="278.0" cy="412.6" r="55.9"/></clipPath><clipPath id="vFr"><circle cx="257.0" cy="413.0" r="42.1"/></clipPath><mask id="vFmb"><rect x="0" y="0" width="520" height="715" fill="#fff"/><circle cx="278.0" cy="412.6" r="55.9" fill="#000"/></mask></defs>
<circle cx="278.0" cy="412.6" r="55.9" fill="#c6d6ef"/>
<circle cx="257.0" cy="413.0" r="42.1" fill="#eca3a9"/>
<circle cx="257.0" cy="413.0" r="42.1" fill="#c78ba8" clip-path="url(#vFb)"/>
<circle cx="254.6" cy="398.0" r="31.0" fill="#f6e09a"/>
<g mask="url(#vFmb)"><circle cx="254.6" cy="398.0" r="31.0" fill="#8c7068" clip-path="url(#vFr)"/></g>
<g clip-path="url(#vFb)"><circle cx="254.6" cy="398.0" r="31.0" fill="#eab25f" clip-path="url(#vFr)"/></g>
<circle cx="278.0" cy="412.6" r="55.9" fill="none" stroke="#4f5b78" stroke-width="0.9"/>
<circle cx="257.0" cy="413.0" r="42.1" fill="none" stroke="#5e4452" stroke-width="0.9"/>
<circle cx="254.6" cy="398.0" r="31.0" fill="none" stroke="#6b5035" stroke-width="0.9"/>
<text x="253.80" y="402.50" font-size="8.4" text-anchor="middle" stroke="#231f20" stroke-width="0.22">2,188</text>
<text x="262.50" y="440.20" font-size="8.4" text-anchor="middle" stroke="#231f20" stroke-width="0.22">1,819</text>
<text x="314.40" y="416.00" font-size="8.4" text-anchor="middle" stroke="#231f20" stroke-width="0.22">3,504</text>
<text x="219.40" y="379.30" font-size="8.4" text-anchor="end" stroke="#231f20" stroke-width="0.22">15</text>
<line x1="221.50" y1="376.10" x2="232.30" y2="376.10" stroke="#222" stroke-width="0.8"/>
<text x="212.20" y="388.80" font-size="8.4" text-anchor="end" stroke="#231f20" stroke-width="0.22">60</text>
<line x1="214.80" y1="385.80" x2="229.10" y2="385.80" stroke="#222" stroke-width="0.8"/>
<text x="208.00" y="416.30" font-size="8.4" text-anchor="end" stroke="#231f20" stroke-width="0.22">236</text>
<line x1="209.40" y1="413.30" x2="221.00" y2="413.30" stroke="#222" stroke-width="0.8"/>
<rect x="243.00" y="487.40" width="9.70" height="5.80" fill="#eca3a9" stroke="#8a6a70" stroke-width="0.5"/>
<text x="255.50" y="492.90" font-size="8.85" stroke="#231f20" stroke-width="0.22">AML (<tspan font-style="italic">n</tspan> = 47)</text>
<rect x="192.10" y="500.60" width="10.40" height="5.80" fill="#f5dc8e" stroke="#8a7a50" stroke-width="0.5"/>
<text x="204.90" y="506.50" font-size="8.85" stroke="#231f20" stroke-width="0.22">LSCs (<tspan font-style="italic">n</tspan> = 11)</text>
<rect x="266.50" y="500.60" width="11.10" height="5.80" fill="#c6d6ef" stroke="#7a8090" stroke-width="0.5"/>
<text x="280.40" y="506.50" font-size="8.85" stroke="#231f20" stroke-width="0.22">Benign (<tspan font-style="italic">n</tspan> = 312)</text>
<rect x="216.30" y="513.60" width="11.10" height="5.80" fill="#8b7274" stroke="#5a4a4a" stroke-width="0.5"/>
<text x="230.20" y="519.60" font-size="8.85" stroke="#231f20" stroke-width="0.22">AML/LSC shared antigens</text>
<text x="356.80" y="346.20" font-size="10" font-weight="bold" fill="#000">G</text>
<rect x="419.40" y="351.62" width="15.90" height="31.17" fill="#f2b1b3" stroke="#555" stroke-width="0.6"/>
<rect x="419.40" y="382.79" width="15.90" height="60.51" fill="#8b7274" stroke="#555" stroke-width="0.6"/>
<rect x="443.80" y="351.62" width="16.80" height="18.34" fill="#f2b1b3" stroke="#555" stroke-width="0.6"/>
<rect x="443.80" y="369.96" width="16.80" height="73.34" fill="#8b7274" stroke="#555" stroke-width="0.6"/>
<rect x="469.20" y="351.62" width="15.90" height="45.84" fill="#f2b1b3" stroke="#555" stroke-width="0.6"/>
<rect x="469.20" y="397.46" width="15.90" height="45.84" fill="#8b7274" stroke="#555" stroke-width="0.6"/>
<rect x="494.00" y="351.62" width="16.50" height="36.67" fill="#f2b1b3" stroke="#555" stroke-width="0.6"/>
<rect x="494.00" y="388.29" width="16.50" height="55.01" fill="#8b7274" stroke="#555" stroke-width="0.6"/>
<line x1="411.20" y1="351.20" x2="411.20" y2="443.70" stroke="#3c3c3c" stroke-width="1.0"/>
<line x1="411.20" y1="443.30" x2="514.00" y2="443.30" stroke="#3c3c3c" stroke-width="1.0"/>
<line x1="408.00" y1="443.30" x2="411.20" y2="443.30" stroke="#3c3c3c" stroke-width="0.8"/>
<text x="405.00" y="446.40" font-size="8.6" text-anchor="end" stroke="#231f20" stroke-width="0.22">0</text>
<line x1="408.00" y1="420.38" x2="411.20" y2="420.38" stroke="#3c3c3c" stroke-width="0.8"/>
<text x="405.00" y="423.48" font-size="8.6" text-anchor="end" stroke="#231f20" stroke-width="0.22">25</text>
<line x1="408.00" y1="397.46" x2="411.20" y2="397.46" stroke="#3c3c3c" stroke-width="0.8"/>
<text x="405.00" y="400.56" font-size="8.6" text-anchor="end" stroke="#231f20" stroke-width="0.22">50</text>
<line x1="408.00" y1="374.54" x2="411.20" y2="374.54" stroke="#3c3c3c" stroke-width="0.8"/>
<text x="405.00" y="377.64" font-size="8.6" text-anchor="end" stroke="#231f20" stroke-width="0.22">75</text>
<line x1="408.00" y1="351.62" x2="411.20" y2="351.62" stroke="#3c3c3c" stroke-width="0.8"/>
<text x="405.00" y="354.72" font-size="8.6" text-anchor="end" stroke="#231f20" stroke-width="0.22">100</text>
<line x1="427.40" y1="443.30" x2="427.40" y2="446.50" stroke="#3c3c3c" stroke-width="0.8"/>
<line x1="452.20" y1="443.30" x2="452.20" y2="446.50" stroke="#3c3c3c" stroke-width="0.8"/>
<line x1="477.20" y1="443.30" x2="477.20" y2="446.50" stroke="#3c3c3c" stroke-width="0.8"/>
<line x1="502.30" y1="443.30" x2="502.30" y2="446.50" stroke="#3c3c3c" stroke-width="0.8"/>
<text transform="translate(378.40,398.00) rotate(-90)" font-size="8.6" text-anchor="middle" stroke="#231f20" stroke-width="0.22">AML-associated</text>
<text transform="translate(388.40,398.00) rotate(-90)" font-size="8.6" text-anchor="middle" stroke="#231f20" stroke-width="0.22">peptides (%)</text>
<rect x="375.60" y="500.20" width="11.10" height="6.80" fill="#f2b1b3" stroke="#8a6a70" stroke-width="0.5"/>
<text x="390.60" y="507.00" font-size="8.7" stroke="#231f20" stroke-width="0.22">Presented on AML bulk cells</text>
<rect x="375.60" y="511.50" width="11.10" height="6.80" fill="#8b7274" stroke="#5a4a4a" stroke-width="0.5"/>
<text x="390.60" y="518.60" font-size="8.7" stroke="#231f20" stroke-width="0.22">AML/LSC shared antigens</text>
<text x="-0.60" y="543.50" font-size="10" font-weight="bold" fill="#000">H</text>
<polyline points="45.1,659 45.1,547.4 198.6,547.4 198.6,659" fill="none" stroke="#cdd3dc" stroke-width="0.7"/>
<line x1="59.70" y1="547.40" x2="59.70" y2="659.00" stroke="#cdd3dc" stroke-width="0.7"/>
<line x1="92.40" y1="547.40" x2="92.40" y2="659.00" stroke="#cdd3dc" stroke-width="0.7"/>
<rect x="45.10" y="575.23" width="0.80" height="40.17" fill="#f4c430"/>
<rect x="45.90" y="601.65" width="13.40" height="13.75" fill="#f4c430"/>
<rect x="60.00" y="559.78" width="1.20" height="55.62" fill="#f4c430"/>
<rect x="61.20" y="587.90" width="3.80" height="27.50" fill="#f4c430"/>
<rect x="65.00" y="601.65" width="27.00" height="13.75" fill="#f4c430"/>
<rect x="60.40" y="615.40" width="31.60" height="3.40" fill="#dc5b58"/>
<rect x="60.40" y="615.40" width="16.60" height="6.03" fill="#dc5b58"/>
<rect x="60.40" y="615.40" width="9.30" height="9.12" fill="#dc5b58"/>
<rect x="63.60" y="615.40" width="3.50" height="13.75" fill="#dc5b58"/>
<polygon points="60.40,615.40 60.40,633.94 60.70,645.53 61.10,645.53 61.50,630.85 61.90,624.67 61.90,615.40" fill="#dc5b58"/>
<polygon points="63.60,615.40 63.70,638.57 64.00,647.85 64.40,647.85 64.80,635.49 65.60,630.85 66.40,629.30 66.40,615.40" fill="#dc5b58"/>
<rect x="92.80" y="615.40" width="105.60" height="3.09" fill="#dc5b58"/>
<rect x="92.80" y="615.40" width="43.20" height="6.03" fill="#dc5b58"/>
<rect x="92.80" y="615.40" width="10.50" height="9.27" fill="#dc5b58"/>
<rect x="92.80" y="615.40" width="3.70" height="12.36" fill="#dc5b58"/>
<polygon points="92.80,615.40 92.80,637.03 93.10,647.85 93.50,647.85 93.90,633.94 94.80,630.08 94.80,615.40" fill="#dc5b58"/>
<line x1="43.80" y1="615.40" x2="198.60" y2="615.40" stroke="#6a2424" stroke-width="1.3"/>
<line x1="43.80" y1="553.20" x2="43.80" y2="677.60" stroke="#3c3c3c" stroke-width="1.0"/>
<line x1="43.80" y1="677.20" x2="198.60" y2="677.20" stroke="#3c3c3c" stroke-width="1.0"/>
<line x1="40.20" y1="553.60" x2="43.80" y2="553.60" stroke="#3c3c3c" stroke-width="0.8"/>
<text x="36.90" y="556.60" font-size="8.6" text-anchor="end" stroke="#231f20" stroke-width="0.22">40</text>
<line x1="40.20" y1="584.50" x2="43.80" y2="584.50" stroke="#3c3c3c" stroke-width="0.8"/>
<text x="36.90" y="587.50" font-size="8.6" text-anchor="end" stroke="#231f20" stroke-width="0.22">20</text>
<line x1="40.20" y1="615.40" x2="43.80" y2="615.40" stroke="#3c3c3c" stroke-width="0.8"/>
<text x="36.90" y="618.40" font-size="8.6" text-anchor="end" stroke="#231f20" stroke-width="0.22">0</text>
<line x1="40.20" y1="646.30" x2="43.80" y2="646.30" stroke="#3c3c3c" stroke-width="0.8"/>
<text x="36.90" y="649.30" font-size="8.6" text-anchor="end" stroke="#231f20" stroke-width="0.22">20</text>
<line x1="40.20" y1="677.20" x2="43.80" y2="677.20" stroke="#3c3c3c" stroke-width="0.8"/>
<text x="36.90" y="680.20" font-size="8.6" text-anchor="end" stroke="#231f20" stroke-width="0.22">40</text>
<text transform="translate(17.60,616.00) rotate(-90)" font-size="8.3" text-anchor="middle" stroke="#231f20" stroke-width="0.22">Positive IPeps (%)</text>
<text transform="translate(58.20,571.00) rotate(-90)" font-size="6.6" text-anchor="middle" stroke="#231f20" stroke-width="0.08">LSC-exclusive</text>
<text transform="translate(91.80,573.00) rotate(-90)" font-size="6.6" text-anchor="middle" stroke="#231f20" stroke-width="0.08">LSC-associated</text>
<text transform="translate(196.20,572.40) rotate(-90)" font-size="6.6" text-anchor="middle" stroke="#231f20" stroke-width="0.08">AML-exclusive</text>
<rect x="47.00" y="661.00" width="150.00" height="15.50" fill="#fff"/>
<rect x="50.80" y="667.70" width="11.40" height="6.10" fill="#f4c430" stroke="#8a7a30" stroke-width="0.5"/>
<text x="64.60" y="674.00" font-size="8.6" stroke="#231f20" stroke-width="0.22">LSCs (<tspan font-style="italic">n</tspan> = 11)</text>
<rect x="123.70" y="667.70" width="11.70" height="6.10" fill="#dc5b58" stroke="#8a3030" stroke-width="0.5"/>
<text x="139.00" y="674.00" font-size="8.6" stroke="#231f20" stroke-width="0.22">AML (<tspan font-style="italic">n</tspan> = 47)</text>
<text x="116.50" y="692.00" font-size="8.6" text-anchor="middle" stroke="#231f20" stroke-width="0.22">AML- and LSC-exclusive</text>
<text x="116.50" y="704.80" font-size="8.6" text-anchor="middle" stroke="#231f20" stroke-width="0.22">HLA class II peptides (<tspan font-style="italic">n</tspan> = 10,931)</text>
<text x="226.50" y="543.50" font-size="10" font-weight="bold" fill="#000">I</text>
<line x1="265.50" y1="624.00" x2="265.50" y2="633.00" stroke="#e8a0a0" stroke-width="0.7"/>
<line x1="268.80" y1="624.50" x2="268.80" y2="634.00" stroke="#f0c090" stroke-width="0.7"/>
<line x1="278.80" y1="622.50" x2="278.80" y2="632.00" stroke="#f5c8a0" stroke-width="0.7"/>
<line x1="284.20" y1="620.60" x2="284.20" y2="633.00" stroke="#f0b080" stroke-width="0.7"/>
<line x1="290.00" y1="624.00" x2="290.00" y2="634.00" stroke="#c8c8c8" stroke-width="0.7"/>
<line x1="305.80" y1="619.60" x2="305.80" y2="634.00" stroke="#d8d8d8" stroke-width="0.7"/>
<line x1="311.20" y1="617.70" x2="311.20" y2="636.00" stroke="#bdbdbd" stroke-width="0.7"/>
<line x1="312.80" y1="620.60" x2="312.80" y2="634.00" stroke="#c8c8d0" stroke-width="0.7"/>
<line x1="316.30" y1="589.80" x2="316.30" y2="630.00" stroke="#d8dbe6" stroke-width="0.7"/>
<line x1="320.50" y1="624.00" x2="320.50" y2="633.00" stroke="#d0d0d0" stroke-width="0.7"/>
<line x1="326.00" y1="620.60" x2="326.00" y2="636.00" stroke="#8898c0" stroke-width="0.7"/>
<line x1="327.20" y1="622.00" x2="327.20" y2="634.00" stroke="#a0a8c8" stroke-width="0.7"/>
<line x1="340.40" y1="618.50" x2="340.40" y2="637.00" stroke="#f0c8a8" stroke-width="0.7"/>
<line x1="346.20" y1="620.00" x2="346.20" y2="636.00" stroke="#bcc4d8" stroke-width="0.7"/>
<line x1="348.00" y1="622.00" x2="348.00" y2="640.00" stroke="#c0c8e0" stroke-width="0.7"/>
<line x1="352.50" y1="624.00" x2="352.50" y2="632.00" stroke="#e0e0e0" stroke-width="0.7"/>
<line x1="360.00" y1="625.00" x2="360.00" y2="632.00" stroke="#e0e0e0" stroke-width="0.7"/>
<line x1="366.00" y1="626.00" x2="366.00" y2="632.00" stroke="#d8d8d8" stroke-width="0.7"/>
<line x1="372.00" y1="625.00" x2="372.00" y2="633.00" stroke="#d0d8e8" stroke-width="0.7"/>
<line x1="382.00" y1="626.00" x2="382.00" y2="632.00" stroke="#e0c8c8" stroke-width="0.7"/>
<line x1="395.00" y1="625.00" x2="395.00" y2="632.00" stroke="#e0e0e0" stroke-width="0.7"/>
<line x1="402.00" y1="626.00" x2="402.00" y2="632.00" stroke="#e8e0d8" stroke-width="0.7"/>
<line x1="419.00" y1="624.00" x2="419.00" y2="632.00" stroke="#d8d8e0" stroke-width="0.7"/>
<line x1="426.00" y1="625.00" x2="426.00" y2="632.00" stroke="#e0e0e0" stroke-width="0.7"/>
<line x1="432.00" y1="625.00" x2="432.00" y2="632.00" stroke="#dde" stroke-width="0.7"/>
<line x1="437.00" y1="622.00" x2="437.00" y2="633.00" stroke="#d8d8e8" stroke-width="0.7"/>
<line x1="466.00" y1="624.00" x2="466.00" y2="633.00" stroke="#e0d0d0" stroke-width="0.7"/>
<line x1="295.80" y1="622.50" x2="295.80" y2="635.00" stroke="#44506a" stroke-width="0.7"/>
<line x1="408.80" y1="620.00" x2="408.80" y2="635.00" stroke="#44506a" stroke-width="0.7"/>
<line x1="443.80" y1="620.00" x2="443.80" y2="635.50" stroke="#44506a" stroke-width="0.7"/>
<line x1="452.00" y1="622.00" x2="452.00" y2="631.00" stroke="#44506a" stroke-width="0.7"/>
<line x1="381.00" y1="623.00" x2="381.00" y2="632.00" stroke="#44506a" stroke-width="0.7"/>
<line x1="328.80" y1="563.10" x2="328.80" y2="628.60" stroke="#6a7898" stroke-width="0.8"/>
<line x1="331.10" y1="581.50" x2="331.10" y2="628.60" stroke="#4a6cb5" stroke-width="0.8"/>
<line x1="344.20" y1="613.80" x2="344.20" y2="628.60" stroke="#4a6cb5" stroke-width="0.8"/>
<line x1="377.20" y1="578.00" x2="377.20" y2="628.60" stroke="#4a6cb5" stroke-width="0.8"/>
<line x1="412.80" y1="585.00" x2="412.80" y2="628.60" stroke="#4a6cb5" stroke-width="0.8"/>
<line x1="448.50" y1="569.80" x2="448.50" y2="628.60" stroke="#4a6cb5" stroke-width="0.8"/>
<line x1="260.80" y1="616.00" x2="260.80" y2="628.60" stroke="#e06060" stroke-width="0.8"/>
<line x1="455.00" y1="610.20" x2="455.00" y2="628.60" stroke="#e06060" stroke-width="0.8"/>
<line x1="328.20" y1="628.60" x2="328.20" y2="693.80" stroke="#6a7898" stroke-width="0.8"/>
<line x1="330.60" y1="628.60" x2="330.60" y2="677.50" stroke="#4a6cb5" stroke-width="0.8"/>
<line x1="350.00" y1="628.60" x2="350.00" y2="687.50" stroke="#4a6cb5" stroke-width="0.8"/>
<line x1="343.80" y1="628.60" x2="343.80" y2="642.50" stroke="#4a6cb5" stroke-width="0.8"/>
<line x1="377.50" y1="628.60" x2="377.50" y2="680.00" stroke="#4a6cb5" stroke-width="0.8"/>
<line x1="412.50" y1="628.60" x2="412.50" y2="672.50" stroke="#4a6cb5" stroke-width="0.8"/>
<line x1="448.00" y1="628.60" x2="448.00" y2="689.50" stroke="#4a6cb5" stroke-width="0.8"/>
<line x1="455.00" y1="628.60" x2="455.00" y2="656.00" stroke="#e06060" stroke-width="0.8"/>
<line x1="460.00" y1="628.60" x2="460.00" y2="638.80" stroke="#e06060" stroke-width="0.8"/>
<line x1="260.80" y1="628.60" x2="260.80" y2="643.00" stroke="#e89090" stroke-width="0.8"/>
<rect x="262.40" y="643.20" width="1.20" height="1.20" fill="#e0303a"/>
<rect x="291.30" y="633.00" width="1.20" height="1.20" fill="#e0303a"/>
<rect x="298.00" y="636.00" width="1.20" height="1.20" fill="#e0303a"/>
<rect x="324.20" y="634.20" width="1.20" height="1.20" fill="#e0303a"/>
<rect x="333.20" y="652.40" width="1.20" height="1.20" fill="#e0303a"/>
<rect x="334.60" y="633.60" width="1.20" height="1.20" fill="#e0303a"/>
<rect x="360.00" y="634.40" width="1.20" height="1.20" fill="#e0303a"/>
<rect x="375.60" y="632.40" width="1.20" height="1.20" fill="#e0303a"/>
<rect x="383.20" y="632.40" width="1.20" height="1.20" fill="#e0303a"/>
<rect x="408.90" y="638.20" width="1.20" height="1.20" fill="#e0303a"/>
<rect x="413.90" y="633.20" width="1.20" height="1.20" fill="#e0303a"/>
<rect x="457.40" y="656.40" width="1.20" height="1.20" fill="#e0303a"/>
<rect x="461.90" y="640.60" width="1.20" height="1.20" fill="#e0303a"/>
<rect x="344.90" y="639.90" width="1.20" height="1.20" fill="#e0303a"/>
<line x1="250.80" y1="628.60" x2="479.60" y2="628.60" stroke="#222" stroke-width="0.9"/>
<line x1="250.80" y1="553.30" x2="250.80" y2="703.00" stroke="#555" stroke-width="1.0"/>
<text transform="translate(245.80,628.40) rotate(-90)" font-size="8.8" text-anchor="middle" stroke="#231f20" stroke-width="0.22">Intensity</text>
<text x="357.80" y="711.30" font-size="8.9" stroke="#231f20" stroke-width="0.22">m/z</text>
<text x="254.00" y="553.70" font-size="6.5" stroke="#231f20" stroke-width="0.08">Identification</text>
<text x="254.00" y="561.70" font-size="6.5" stroke="#231f20" stroke-width="0.08">NPM<tspan dy="1.5" font-size="4.7">mut_A*11</tspan><tspan dy="-1.5"> AVEEVSLRK</tspan></text>
<text x="253.00" y="688.80" font-size="6.5" stroke="#231f20" stroke-width="0.08"><tspan font-style="italic">R</tspan><tspan dy="-2.4" font-size="4.4">2</tspan><tspan dy="2.4"> = 0.8709</tspan></text>
<text x="253.00" y="695.00" font-size="6.5" stroke="#231f20" stroke-width="0.08">Validation</text>
<text x="253.00" y="701.30" font-size="6.5" stroke="#231f20" stroke-width="0.08">NPM<tspan dy="1.5" font-size="4.7">mut_A*11</tspan><tspan dy="-1.5"> A*VEEVSLRK</tspan></text>
<text x="343.00" y="581.00" font-size="6.6" text-anchor="middle" fill="#4a6cb5" stroke="#4a6cb5" stroke-width="0.08">y<tspan dy="1.1" font-size="4.4">7</tspan><tspan dy="-3.2" font-size="4.4">2+</tspan></text>
<text x="343.00" y="588.90" font-size="6.6" text-anchor="middle" fill="#4a6cb5" stroke="#4a6cb5" stroke-width="0.08">430.75</text>
<text x="343.20" y="603.50" font-size="6.6" text-anchor="middle" fill="#4a6cb5" stroke="#4a6cb5" stroke-width="0.08">y<tspan dy="1.1" font-size="4.4">8</tspan><tspan dy="-3.2" font-size="4.4">2+</tspan></text>
<text x="343.20" y="611.00" font-size="6.6" text-anchor="middle" fill="#4a6cb5" stroke="#4a6cb5" stroke-width="0.08">480.28</text>
<text x="376.50" y="570.00" font-size="6.6" text-anchor="middle" fill="#4a6cb5" stroke="#4a6cb5" stroke-width="0.08">y<tspan dy="1.1" font-size="4.4">5</tspan><tspan dy="-3.2" font-size="4.4">+</tspan></text>
<text x="376.50" y="577.00" font-size="6.6" text-anchor="middle" fill="#4a6cb5" stroke="#4a6cb5" stroke-width="0.08">602.40</text>
<text x="412.00" y="578.00" font-size="6.6" text-anchor="middle" fill="#4a6cb5" stroke="#4a6cb5" stroke-width="0.08">y<tspan dy="1.1" font-size="4.4">6</tspan><tspan dy="-3.2" font-size="4.4">+</tspan></text>
<text x="412.00" y="584.30" font-size="6.6" text-anchor="middle" fill="#4a6cb5" stroke="#4a6cb5" stroke-width="0.08">731.44</text>
<text x="448.20" y="559.20" font-size="6.6" text-anchor="middle" fill="#4a6cb5" stroke="#4a6cb5" stroke-width="0.08">y<tspan dy="1.1" font-size="4.4">7</tspan><tspan dy="-3.2" font-size="4.4">+</tspan></text>
<text x="448.20" y="566.90" font-size="6.6" text-anchor="middle" fill="#4a6cb5" stroke="#4a6cb5" stroke-width="0.08">860.49</text>
<text x="460.20" y="598.70" font-size="6.6" text-anchor="middle" fill="#d8404f" stroke="#d8404f" stroke-width="0.08">b<tspan dy="1.1" font-size="4.4">8</tspan><tspan dy="-3.2" font-size="4.4">+</tspan></text>
<text x="460.20" y="607.30" font-size="6.6" text-anchor="middle" fill="#d8404f" stroke="#d8404f" stroke-width="0.08">884.49</text>
<text x="260.40" y="611.00" font-size="6.6" text-anchor="middle" fill="#d8404f" stroke="#d8404f" stroke-width="0.08">b<tspan dy="1.1" font-size="4.4">2</tspan><tspan dy="-3.2" font-size="4.4">+</tspan></text>
<text x="260.40" y="618.40" font-size="6.0" text-anchor="middle" fill="#d8404f" stroke="#d8404f" stroke-width="0.08">171.11</text>
<text x="278.80" y="618.60" font-size="6.4" fill="#f29a50" stroke="#f29a50" stroke-width="0.08">EE<tspan dy="-2.4" font-size="4.4">+</tspan></text>
<text x="291.30" y="619.40" font-size="6.6" fill="#d8404f" stroke="#d8404f" stroke-width="0.08">b<tspan dy="1.1" font-size="4.4">3</tspan><tspan dy="-3.2" font-size="4.4">+</tspan></text>
<text x="267.30" y="625.60" font-size="6.4" fill="#f29a50" stroke="#f29a50" stroke-width="0.08">EV<tspan dy="-2.4" font-size="4.4">+</tspan></text>
<g transform="translate(427.60,455.00) rotate(-46)" font-size="8.6" stroke="#231f20" stroke-width="0.22"><text x="0" y="0" text-anchor="end">All (<tspan font-style="italic">n</tspan> = 12)</text></g>
<g transform="translate(458.40,455.10) rotate(-46)" font-size="8.6" stroke="#231f20" stroke-width="0.22"><text x="0" y="0" text-anchor="end">targets (<tspan font-style="italic">n</tspan> = 5)</text><text x="-26.39" y="-8.5" text-anchor="middle">Peptide</text></g>
<g transform="translate(485.20,455.80) rotate(-46)" font-size="8.6" stroke="#231f20" stroke-width="0.22"><text x="0" y="0" text-anchor="end">targets (<tspan font-style="italic">n</tspan> = 2)</text><text x="-26.39" y="-8.5" text-anchor="middle">Protein</text></g>
<g transform="translate(511.80,455.10) rotate(-46)" font-size="8.6" stroke="#231f20" stroke-width="0.22"><text x="0" y="0" text-anchor="end">targets (<tspan font-style="italic">n</tspan> = 5)</text><text x="-26.39" y="-8.5" text-anchor="middle">Hotspot</text></g>
</svg></body></html>
